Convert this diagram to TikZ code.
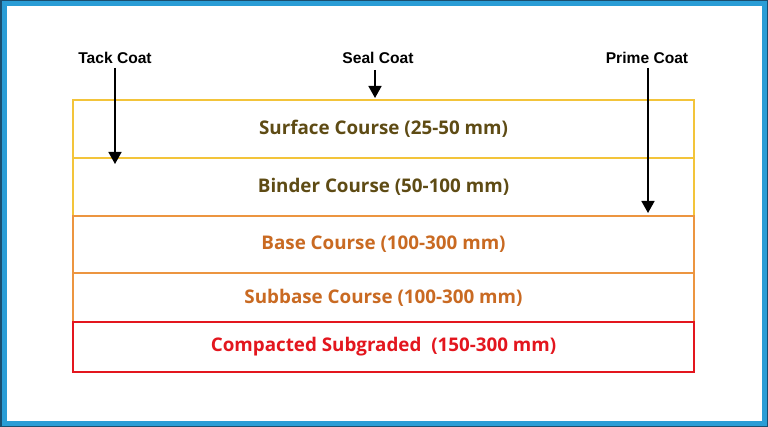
\documentclass[tikz,border=0pt]{standalone}
\usepackage{fontspec}
\setmainfont{Open Sans}
\newfontfamily\labfont{Liberation Sans}
\usetikzlibrary{arrows.meta}
\definecolor{frameblue}{HTML}{2A9DD6}
\definecolor{framedark}{HTML}{1A4F70}
\definecolor{yel}{HTML}{F3C43A}
\definecolor{ora}{HTML}{EC9540}
\definecolor{redl}{HTML}{E3161E}
\definecolor{olive}{HTML}{5E4B14}
\definecolor{orat}{HTML}{C96A22}
\tikzset{
  layer/.style={draw, line width=1.6pt, minimum width=621pt, inner sep=0pt, font=\fontsize{18.8}{22}\selectfont\bfseries},
  coatlabel/.style={font=\labfont\fontsize{15.6}{18}\selectfont\bfseries, inner sep=0pt},
  coatarrow/.style={line width=1.6pt, -{Triangle[length=12pt,width=13pt]}}
}
\begin{document}
\begin{tikzpicture}[x=1pt,y=-1pt]
\useasboundingbox (0,0) rectangle (768,427);
\fill[framedark] (0,0) rectangle (768,427);
\fill[frameblue] (1.5,1.5) rectangle (766.5,425.5);
\fill[white] (6.5,6.5) rectangle (761.5,420.5);
\node[layer, draw=yel, text=olive, minimum height=58pt] (surface) at (383.5,129) {Surface Course (25-50 mm)};
\node[layer, draw=yel, text=olive, minimum height=58pt] (binder) at (383.5,187) {Binder Course (50-100 mm)};
\node[layer, draw=ora, text=orat, minimum height=57pt] (base) at (383.5,244.5) {Base Course (100-300 mm)};
\node[layer, draw=ora, text=orat, minimum height=49pt] (subbase) at (383.5,297.5) {Subbase Course (100-300 mm)};
\node[layer, draw=redl, text=redl, minimum height=50pt] (subgrade) at (383.5,347) {Compacted Subgraded\ \ (150-300 mm)};
\node[coatlabel] (tack) at (115,58) {Tack Coat};
\node[coatlabel] (seal) at (378,58) {Seal Coat};
\node[coatlabel] (prime) at (647,58) {Prime Coat};
\coordinate (tacktip) at (115,164);
\coordinate (sealtip) at (375,98);
\coordinate (primetip) at (648,213);
\draw[coatarrow] (tack.south -| tacktip) ++(0,4) -- (tacktip);
\draw[coatarrow] (seal.south -| sealtip) ++(0,6) -- (sealtip);
\draw[coatarrow] (prime.south -| primetip) ++(0,4) -- (primetip);
\end{tikzpicture}
\end{document}
